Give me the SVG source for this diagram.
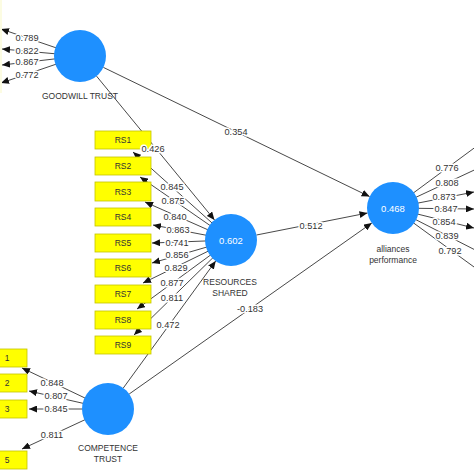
<svg xmlns="http://www.w3.org/2000/svg" width="474" height="474" viewBox="0 0 474 474">
<defs>
<marker id="ah" markerUnits="userSpaceOnUse" markerWidth="8" markerHeight="7" refX="8" refY="3.5" orient="auto">
<path d="M0,0 L8,3.5 L0,7 z" fill="#111"/>
</marker>
<style>
.c{stroke:#333;stroke-width:0.9;fill:none;marker-end:url(#ah)}
.lv{fill:#1e90ff}
.box{fill:#ffff00;stroke:#c4c400;stroke-width:0.8}
.bt{font-family:"Liberation Sans",Arial,sans-serif;font-size:8.5px;fill:#333;text-anchor:middle}
.el{font-family:"Liberation Sans",Arial,sans-serif;font-size:9.2px;fill:#333;text-anchor:middle;stroke:#fff;stroke-width:3;paint-order:stroke;stroke-linejoin:round}
.nl{font-family:"Liberation Sans",Arial,sans-serif;font-size:8.5px;fill:#333;text-anchor:middle}
.r2{font-family:"Liberation Sans",Arial,sans-serif;font-size:9.5px;fill:#fff;text-anchor:middle}
</style>
</defs>
<rect width="474" height="474" fill="#fff"/>
<g id="connectors">
<line class="c" x1="103.4" y1="67.4" x2="369.6" y2="196.6"/>
<line class="c" x1="96.5" y1="76.1" x2="214.5" y2="219.9"/>
<line class="c" x1="256.5" y1="235" x2="367.5" y2="213"/>
<line class="c" x1="123.3" y1="388" x2="215.7" y2="261"/>
<line class="c" x1="129.2" y1="394" x2="371.8" y2="223"/>
<line class="c" x1="80" y1="56" x2="1" y2="29"/>
<line class="c" x1="80" y1="56" x2="2" y2="49"/>
<line class="c" x1="80" y1="56" x2="2" y2="65"/>
<line class="c" x1="80" y1="56" x2="1" y2="83"/>
<line class="c" x1="231" y1="240" x2="133" y2="152"/>
<line class="c" x1="231" y1="240" x2="140" y2="177"/>
<line class="c" x1="231" y1="240" x2="145" y2="202"/>
<line class="c" x1="231" y1="240" x2="153" y2="225"/>
<line class="c" x1="231" y1="240" x2="152" y2="243"/>
<line class="c" x1="231" y1="240" x2="152" y2="263"/>
<line class="c" x1="231" y1="240" x2="143" y2="283"/>
<line class="c" x1="231" y1="240" x2="137" y2="309"/>
<line class="c" x1="231" y1="240" x2="134" y2="335"/>
<line class="c" x1="108" y1="409" x2="22" y2="368"/>
<line class="c" x1="108" y1="409" x2="29" y2="391"/>
<line class="c" x1="108" y1="409" x2="29" y2="409"/>
<line class="c" x1="108" y1="409" x2="22" y2="449"/>
<line class="c" x1="393" y1="208" x2="485" y2="140"/>
<line class="c" x1="393" y1="208" x2="485" y2="165"/>
<line class="c" x1="393" y1="208" x2="474" y2="192"/>
<line class="c" x1="393" y1="208" x2="474" y2="209"/>
<line class="c" x1="393" y1="208" x2="474" y2="228"/>
<line class="c" x1="393" y1="208" x2="485" y2="255"/>
<line class="c" x1="393" y1="208" x2="485" y2="275"/>
</g>
<g id="goodwill-indicators">
<rect x="-10" y="0" width="12" height="93" fill="#fcfce2"/>
</g>
<g id="RS1"><rect class="box" x="95" y="131" width="56" height="18"/><text class="bt" x="123" y="143">RS1</text></g>
<g id="RS2"><rect class="box" x="95" y="157" width="56" height="18"/><text class="bt" x="123" y="169">RS2</text></g>
<g id="RS3"><rect class="box" x="95" y="182" width="56" height="19"/><text class="bt" x="123" y="194.5">RS3</text></g>
<g id="RS4"><rect class="box" x="95" y="208" width="56" height="18"/><text class="bt" x="123" y="220">RS4</text></g>
<g id="RS5"><rect class="box" x="95" y="234" width="56" height="18"/><text class="bt" x="123" y="246">RS5</text></g>
<g id="RS6"><rect class="box" x="95" y="259" width="56" height="18"/><text class="bt" x="123" y="271">RS6</text></g>
<g id="RS7"><rect class="box" x="95" y="285" width="56" height="18"/><text class="bt" x="123" y="297">RS7</text></g>
<g id="RS8"><rect class="box" x="95" y="311" width="56" height="18"/><text class="bt" x="123" y="323">RS8</text></g>
<g id="RS9"><rect class="box" x="95" y="336" width="56" height="18"/><text class="bt" x="123" y="348">RS9</text></g>
<g id="CT1"><rect class="box" x="-30" y="349" width="57" height="18"/><text class="bt" x="7" y="361">1</text></g>
<g id="CT2"><rect class="box" x="-30" y="374" width="57" height="18"/><text class="bt" x="7" y="386">2</text></g>
<g id="CT3"><rect class="box" x="-30" y="400" width="57" height="18"/><text class="bt" x="7" y="412">3</text></g>
<g id="CT5"><rect class="box" x="-30" y="451" width="57" height="18"/><text class="bt" x="7" y="463">5</text></g>
<g id="goodwill-trust"><circle class="lv" cx="80" cy="56" r="26"/><text class="nl" x="80" y="99">GOODWILL TRUST</text></g>
<g id="resources-shared"><circle class="lv" cx="231" cy="240" r="26"/><text class="r2" x="231" y="243.5">0.602</text><text class="nl" x="230" y="285">RESOURCES</text><text class="nl" x="230" y="296">SHARED</text></g>
<g id="alliances-performance"><circle class="lv" cx="393" cy="208" r="26"/><text class="r2" x="393" y="211.5">0.468</text><text class="nl" x="393" y="252">alliances</text><text class="nl" x="393" y="263">performance</text></g>
<g id="competence-trust"><circle class="lv" cx="108" cy="409" r="26"/><text class="nl" x="108" y="451">COMPETENCE</text><text class="nl" x="108" y="462">TRUST</text></g>
<g id="edge-labels">
<text class="el" x="236" y="135">0.354</text>
<text class="el" x="153" y="152">0.426</text>
<text class="el" x="311" y="229">0.512</text>
<text class="el" x="168" y="328">0.472</text>
<text class="el" x="250" y="312">-0.183</text>
<text class="el" x="27" y="41">0.789</text>
<text class="el" x="27" y="54">0.822</text>
<text class="el" x="27" y="65">0.867</text>
<text class="el" x="27" y="78">0.772</text>
<text class="el" x="172" y="190">0.845</text>
<text class="el" x="173" y="204">0.875</text>
<text class="el" x="175" y="220">0.840</text>
<text class="el" x="178" y="233">0.863</text>
<text class="el" x="177" y="246">0.741</text>
<text class="el" x="177" y="258">0.856</text>
<text class="el" x="176" y="271">0.829</text>
<text class="el" x="172" y="286">0.877</text>
<text class="el" x="172" y="301">0.811</text>
<text class="el" x="52" y="386">0.848</text>
<text class="el" x="56" y="399">0.807</text>
<text class="el" x="56" y="412">0.845</text>
<text class="el" x="52" y="438">0.811</text>
<text class="el" x="447" y="171">0.776</text>
<text class="el" x="447" y="186">0.808</text>
<text class="el" x="444" y="200">0.873</text>
<text class="el" x="446" y="212">0.847</text>
<text class="el" x="444" y="225">0.854</text>
<text class="el" x="447" y="239">0.839</text>
<text class="el" x="450" y="254">0.792</text>
</g>
</svg>
